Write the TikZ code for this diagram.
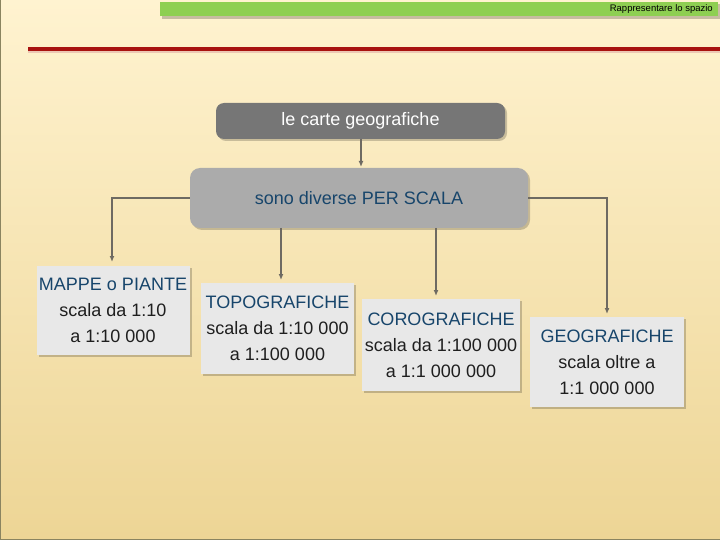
\documentclass[tikz,border=0pt]{standalone}
\usepackage{fontspec}
\setmainfont{Liberation Sans}
\usetikzlibrary{shadows,arrows.meta}
\definecolor{bgtop}{HTML}{FFF3D0}
\definecolor{bgbot}{HTML}{EDD595}
\definecolor{greenbar}{HTML}{8ECF52}
\definecolor{redline}{HTML}{A8120F}
\definecolor{darkbox}{HTML}{767676}
\definecolor{midbox}{HTML}{ABABAB}
\definecolor{lightbox}{HTML}{E8E8E8}
\definecolor{headblue}{HTML}{17456B}
\definecolor{conn}{HTML}{6E6A62}
\definecolor{frame}{HTML}{8A8460}
\begin{document}
\begin{tikzpicture}[x=1pt,y=-1pt,
  sh/.style={drop shadow={shadow xshift=2pt,shadow yshift=-2pt,opacity=0.2,fill=black}},
  topbox/.style={draw=none,fill=darkbox,rounded corners=8pt,minimum width=289pt,minimum height=36pt,text=white,font=\fontsize{18}{20}\selectfont,sh},
  midnode/.style={draw=none,fill=midbox,rounded corners=10pt,minimum width=338pt,minimum height=60pt,text=headblue,font=\fontsize{18}{20}\selectfont,sh},
  leaf/.style={draw=none,fill=lightbox,align=center,inner sep=0pt,font=\fontsize{18}{26}\selectfont,text=black!88,sh},
  conline/.style={draw=conn,line width=1.5pt},
  arr/.style={conline,-{Latex[length=6pt,width=5pt]}}
]
\useasboundingbox (0,0) rectangle (720,540);
\shade[top color=bgtop,bottom color=bgbot] (0,0) rectangle (720,540);
\draw[color=frame,line width=1pt] (0.5,0) -- (0.5,539.5) -- (720,539.5);
% header bar
\fill[black,opacity=0.22] (162,4) rectangle (720,19);
\fill[greenbar] (160,2) rectangle (718,16);
\node[anchor=east,inner sep=0pt,font=\fontsize{9.5}{10}\selectfont] (title) at (713,9.5) {Rappresentare lo spazio};
\fill[redline] (28,47) rectangle (720,51.5);
\fill[redline!40,opacity=0.5] (28,51.5) rectangle (720,53);
% nodes
\node[topbox] (top) at (360.5,121) {le carte geografiche};
\node[midnode] (mid) at (359,198) {sono diverse PER SCALA};
\node[leaf,minimum width=153pt,minimum height=89pt] (mappe) at (113,310.5)
  {\textcolor{headblue}{MAPPE o PIANTE}\\scala da 1:10\\a 1:10 000};
\node[leaf,minimum width=153pt,minimum height=91pt] (topo) at (277.5,328)
  {\textcolor{headblue}{TOPOGRAFICHE}\\scala da 1:10 000\\a 1:100 000};
\node[leaf,minimum width=158pt,minimum height=92pt] (coro) at (441,345)
  {\textcolor{headblue}{COROGRAFICHE}\\scala da 1:100 000\\a 1:1 000 000};
\node[leaf,minimum width=154pt,minimum height=90pt] (geo) at (607,362)
  {\textcolor{headblue}{GEOGRAFICHE}\\scala oltre a\\1:1 000 000};
\coordinate (a1) at (361,139);
\coordinate (a2) at (361,167);
\coordinate (t1) at (281,228);
\coordinate (t2) at (281,280);
\coordinate (c1) at (436,228);
\coordinate (c2) at (436,296);
\coordinate (m2) at (112,262);
\coordinate (g2) at (607,314);
% connectors
\draw[arr] (a1) -- (a2);
\draw[arr] (mid.west) -| (m2);
\draw[arr] (t1) -- (t2);
\draw[arr] (c1) -- (c2);
\draw[arr] (mid.east) -| (g2);
\end{tikzpicture}
\end{document}
